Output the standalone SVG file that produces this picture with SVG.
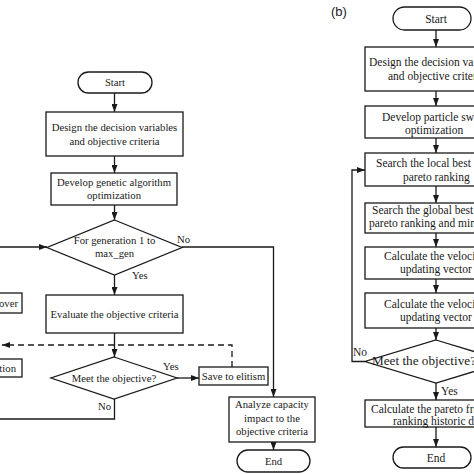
<svg xmlns="http://www.w3.org/2000/svg" width="474" height="474" viewBox="0 0 474 474">
<defs>
<marker id="ah" markerWidth="8" markerHeight="6" refX="8" refY="3" orient="auto" markerUnits="userSpaceOnUse">
<path d="M0,0 L8,3 L0,6 z" fill="#1a1a1a"/>
</marker>
<style>
.b{fill:#fff;stroke:#1a1a1a;stroke-width:1.3}
.c{fill:none;stroke:#1a1a1a;stroke-width:1.3}
.d{fill:none;stroke:#1a1a1a;stroke-width:1.3;stroke-dasharray:6 4}
.a{marker-end:url(#ah)}
text{font-family:"Liberation Serif","Times New Roman",serif;fill:#1a1a1a}
.l{font-size:10.7px}
.r{font-size:11.5px}
.m{text-anchor:middle}
</style>
</defs>
<rect width="474" height="474" fill="#fff"/>

<g id="connectors">
<line class="c a" x1="114.5" y1="93" x2="114.5" y2="112"/>
<line class="c a" x1="114.5" y1="156" x2="114.5" y2="173"/>
<line class="c a" x1="114.5" y1="205" x2="114.5" y2="220"/>
<line class="c a" x1="0" y1="247" x2="47" y2="247"/>
<line class="c a" x1="114.5" y1="275" x2="114.5" y2="295"/>
<line class="c a" x1="114.5" y1="333" x2="114.5" y2="357"/>
<line class="c a" x1="177" y1="378" x2="199" y2="378"/>
<polyline class="d a" points="232,367 232,345 2,345"/>
<polyline class="c a" points="182,247 273.5,247 273.5,397"/>
<polyline class="c" points="114.5,399 114.5,419 0,419"/>
<line class="c a" x1="273.5" y1="442" x2="273.5" y2="450"/>
<line class="c a" x1="436" y1="30" x2="436" y2="47"/>
<line class="c a" x1="436" y1="91" x2="436" y2="106"/>
<line class="c a" x1="436" y1="138" x2="436" y2="153"/>
<line class="c a" x1="436" y1="186" x2="436" y2="203"/>
<line class="c a" x1="436" y1="233" x2="436" y2="247"/>
<line class="c a" x1="436" y1="279" x2="436" y2="293"/>
<line class="c a" x1="436" y1="328" x2="436" y2="340"/>
<line class="c a" x1="436" y1="383" x2="436" y2="400"/>
<line class="c a" x1="436" y1="427" x2="436" y2="447"/>
<polyline class="c a" points="365,361.5 352,361.5 352,170 365,170"/>
<text class="l" x="177" y="243">No</text>
<text class="l" x="132" y="279">Yes</text>
<text class="l" x="163" y="370">Yes</text>
<text class="l" x="98" y="410">No</text>
<text class="r" x="353" y="356">No</text>
<text class="r" x="441" y="395">Yes</text>
</g>

<g id="a-start"><rect class="b" x="78" y="72" width="74" height="21" rx="10.5"/><text class="l m" x="115" y="86">Start</text></g>
<g id="a-design"><rect class="b" x="46" y="112" width="137" height="44"/><text class="l m" x="114.5" y="131">Design the decision variables</text><text class="l m" x="114.5" y="144.5">and objective criteria</text></g>
<g id="a-develop"><rect class="b" x="51" y="173" width="126" height="32"/><text class="l m" x="114" y="186">Develop genetic algorithm</text><text class="l m" x="114" y="199">optimization</text></g>
<g id="a-loop"><polygon class="b" points="114.5,220 182,247.5 114.5,275 47,247.5"/><text class="l m" x="114.5" y="244">For generation 1 to</text><text class="l m" x="114.5" y="257">max_gen</text></g>
<g id="a-evaluate"><rect class="b" x="46" y="295" width="137" height="38"/><text class="l m" x="114.5" y="318">Evaluate the objective criteria</text></g>
<g id="a-crossover"><rect class="b" x="-70" y="293" width="92" height="20"/><text class="l" x="18" y="307" text-anchor="end">Crossover</text></g>
<g id="a-mutation"><rect class="b" x="-70" y="359" width="92" height="18"/><text class="l" x="16" y="372" text-anchor="end">Mutation</text></g>
<g id="a-meet"><polygon class="b" points="114,357 177,378 114,399 51,378"/><text class="l m" x="114" y="381.5">Meet the objective?</text></g>
<g id="a-save"><rect class="b" x="199" y="367" width="69" height="18"/><text class="l m" x="233.5" y="380">Save to elitism</text></g>
<g id="a-analyze"><rect class="b" x="229" y="397" width="86" height="45"/><text class="l m" x="272" y="408">Analyze capacity</text><text class="l m" x="272" y="421.5">impact to the</text><text class="l m" x="272" y="435">objective criteria</text></g>
<g id="a-end"><rect class="b" x="237" y="450" width="73" height="22" rx="11"/><text class="l m" x="273.5" y="465">End</text></g>

<g id="b-label"><text x="331" y="16" style="font-family:'Liberation Sans',Arial,sans-serif;font-size:13px">(b)</text></g>
<g id="b-start"><rect class="b" x="393" y="7" width="78" height="23" rx="11.5"/><text class="r m" x="436" y="23">Start</text></g>
<g id="b-design"><rect class="b" x="365" y="47" width="142" height="44"/><text class="r" x="369" y="66">Design the decision variables</text><text class="r" x="388" y="80">and objective criteria</text></g>
<g id="b-develop"><rect class="b" x="365" y="106" width="142" height="32"/><text class="r" x="382" y="121">Develop particle swarm</text><text class="r" x="405" y="134">optimization</text></g>
<g id="b-local"><rect class="b" x="365" y="153" width="142" height="33"/><text class="r" x="376" y="167">Search the local best</text><text class="r" x="403" y="181">pareto ranking</text></g>
<g id="b-global"><rect class="b" x="365" y="203" width="142" height="30"/><text class="r" x="372" y="214">Search the global best</text><text class="r" x="369" y="227">pareto ranking and minimum</text></g>
<g id="b-velocity1"><rect class="b" x="365" y="247" width="142" height="32"/><text class="r" x="384" y="260">Calculate the velocity</text><text class="r" x="400" y="273">updating vector</text></g>
<g id="b-velocity2"><rect class="b" x="365" y="293" width="142" height="35"/><text class="r" x="384" y="308">Calculate the velocity</text><text class="r" x="400" y="321">updating vector</text></g>
<g id="b-meet"><polygon class="b" points="436,340 507,361.5 436,383 365,361.5"/><text x="372" y="365" style="font-size:13.2px">Meet the objective?</text></g>
<g id="b-pareto"><rect class="b" x="365" y="400" width="142" height="27"/><text class="r" x="371" y="413">Calculate the pareto front</text><text class="r" x="393" y="424.5">ranking historic data</text></g>
<g id="b-end"><rect class="b" x="393" y="447" width="78" height="21" rx="10.5"/><text class="r m" x="436" y="462">End</text></g>
</svg>
